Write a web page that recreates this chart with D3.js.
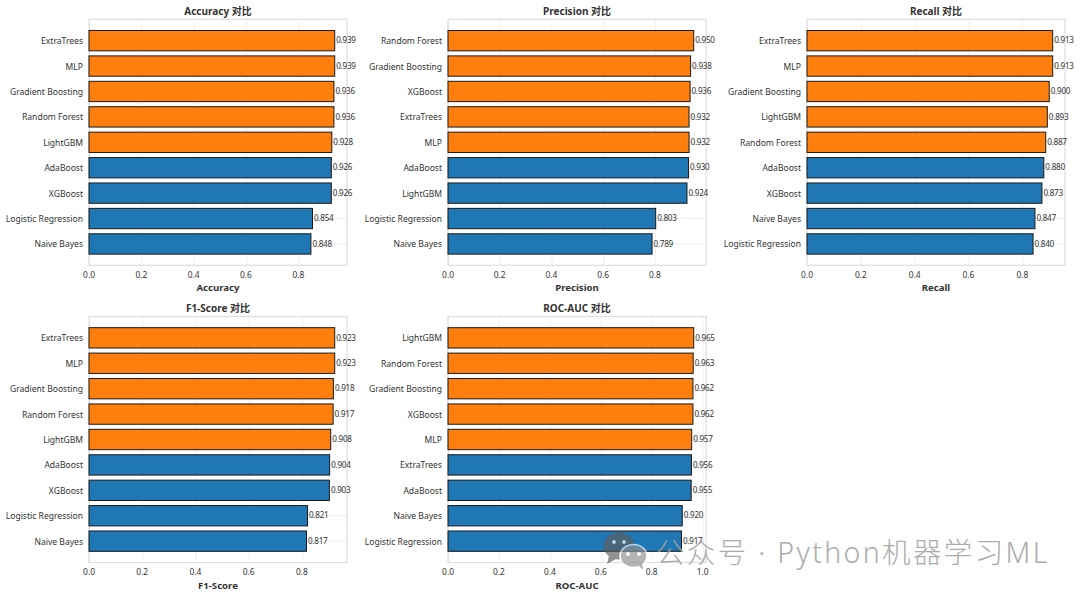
<!DOCTYPE html>
<html>
<head>
<meta charset="utf-8">
<script src="https://cdn.jsdelivr.net/npm/d3@7/dist/d3.min.js"></script>
<style>
html,body{margin:0;padding:0;background:#fff;}
svg{display:block;}
text{font-family:"Noto Sans","Noto Sans CJK SC",sans-serif;fill:#333;}
</style>
</head>
<body>
<svg id="chart" width="1080" height="596"></svg>
<script>
// Per-metric model rankings, best first
const accuracyModels = ["ExtraTrees","MLP","Gradient Boosting","Random Forest","LightGBM","AdaBoost","XGBoost","Logistic Regression","Naive Bayes"];
const accuracyValues = [0.939,0.939,0.936,0.936,0.928,0.926,0.926,0.854,0.848];
const precisionModels = ["Random Forest","Gradient Boosting","XGBoost","ExtraTrees","MLP","AdaBoost","LightGBM","Logistic Regression","Naive Bayes"];
const precisionValues = [0.950,0.938,0.936,0.932,0.932,0.930,0.924,0.803,0.789];
const recallModels = ["ExtraTrees","MLP","Gradient Boosting","LightGBM","Random Forest","AdaBoost","XGBoost","Naive Bayes","Logistic Regression"];
const recallValues = [0.913,0.913,0.900,0.893,0.887,0.880,0.873,0.847,0.840];
const f1Models = ["ExtraTrees","MLP","Gradient Boosting","Random Forest","LightGBM","AdaBoost","XGBoost","Logistic Regression","Naive Bayes"];
const f1Values = [0.923,0.923,0.918,0.917,0.908,0.904,0.903,0.821,0.817];
const rocModels = ["LightGBM","Random Forest","Gradient Boosting","XGBoost","MLP","ExtraTrees","AdaBoost","Naive Bayes","Logistic Regression"];
const rocValues = [0.965,0.963,0.962,0.962,0.957,0.956,0.955,0.920,0.917];
const metricNames = ["Accuracy","Precision","Recall","F1-Score","ROC-AUC"];
const xTicks = [0,0.2,0.4,0.6,0.8,1.0];
const topCount = 5;

const panels = [
  {name:metricNames[0],models:accuracyModels,values:accuracyValues,col:0,row:0},
  {name:metricNames[1],models:precisionModels,values:precisionValues,col:1,row:0},
  {name:metricNames[2],models:recallModels,values:recallValues,col:2,row:0},
  {name:metricNames[3],models:f1Models,values:f1Values,col:0,row:1},
  {name:metricNames[4],models:rocModels,values:rocValues,col:1,row:1}
];

const colLeft = [89,448,807];
const rowTop = [19.3,316.5];
const panelW = 258, panelH = 246;
const svg = d3.select("#chart");

panels.forEach(p => {
  const left = colLeft[p.col], top = rowTop[p.row];
  const g = svg.append("g").attr("transform",`translate(${left},${top})`);
  const x = d3.scaleLinear().domain([0,d3.max(p.values)*1.05]).range([0,panelW]);
  const y = d3.scaleLinear().domain([-0.84,8.84]).range([0,panelH]);
  const barH = y(0.8)-y(0);
  const ticks = xTicks.filter(t => t <= x.domain()[1]);

  // Grid lines sit under the bars
  g.selectAll(".vgrid").data(ticks).join("line")
    .attr("x1",d=>x(d)+0.5).attr("x2",d=>x(d)+0.5).attr("y1",0).attr("y2",panelH)
    .attr("stroke","#f0f0f0").attr("stroke-width",1);
  g.selectAll(".hgrid").data(p.values).join("line")
    .attr("x1",0).attr("x2",panelW).attr("y1",(d,i)=>y(i)).attr("y2",(d,i)=>y(i))
    .attr("stroke","#ececec").attr("stroke-width",1);

  g.append("rect").attr("x",0).attr("y",0).attr("width",panelW).attr("height",panelH)
    .attr("fill","none").attr("stroke","#dedede").attr("stroke-width",1.2);

  g.selectAll(".bar").data(p.values).join("rect")
    .attr("x",0).attr("y",(d,i)=>y(i)-barH/2)
    .attr("width",d=>x(d)).attr("height",barH)
    .attr("fill",(d,i)=>i<topCount?"#ff7f0e":"#1f77b4")
    .attr("stroke","#1a1a1a").attr("stroke-width",1);

  g.selectAll(".value").data(p.values).join("text")
    .attr("x",d=>x(d)+1.5).attr("y",(d,i)=>y(i)).attr("dy","0.33em")
    .attr("font-size",8.1).attr("letter-spacing",-0.25).text(d=>d.toFixed(3));

  g.selectAll(".cat").data(p.models).join("text")
    .attr("x",-6).attr("y",(d,i)=>y(i)+0.6).attr("dy","0.34em")
    .attr("text-anchor","end").attr("font-size",8.55).text(d=>d);

  g.selectAll(".xlab").data(ticks).join("text")
    .attr("x",d=>x(d)).attr("y",panelH+12.8).attr("text-anchor","middle")
    .attr("font-size",8.4).text(d=>d.toFixed(1));

  g.append("text").attr("x",panelW/2).attr("y",panelH+26).attr("text-anchor","middle")
    .attr("font-size",9.6).attr("font-weight",700).text(p.name);

  g.append("text").attr("x",panelW/2).attr("y",-4.8).attr("text-anchor","middle")
    .attr("font-family","'Noto Sans CJK SC'").attr("font-size",10).attr("font-weight",700)
    .text(`${p.name} 对比`);
});

// Account credit in the lower right corner
const credit = svg.append("g").attr("opacity",0.68);
credit.append("ellipse").attr("cx",619).attr("cy",546).attr("rx",15.5).attr("ry",13.5).attr("fill","#5d5d5d");
credit.append("path").attr("d","M609 556 L607 564 L616 559 Z").attr("fill","#5d5d5d");
credit.append("ellipse").attr("cx",633.5).attr("cy",556).attr("rx",13.5).attr("ry",11.5).attr("fill","#929292").attr("stroke","#fff").attr("stroke-width",1.5);
credit.append("path").attr("d","M638 565 L643 570 L642 562 Z").attr("fill","#929292");
[[614,542],[624,542],[628,554],[639,554]].forEach(([cx,cy]) => {
  credit.append("circle").attr("cx",cx).attr("cy",cy).attr("r",1.9).attr("fill","#fff");
});
svg.append("text").attr("x",656).attr("y",562.5).attr("font-size",28.5).attr("letter-spacing",2.35)
  .attr("font-family","'Noto Sans CJK SC'").attr("font-weight",300).style("fill","#a4a4a4").attr("opacity",0.9)
  .text("公众号 · Python机器学习ML");
</script>
</body>
</html>
